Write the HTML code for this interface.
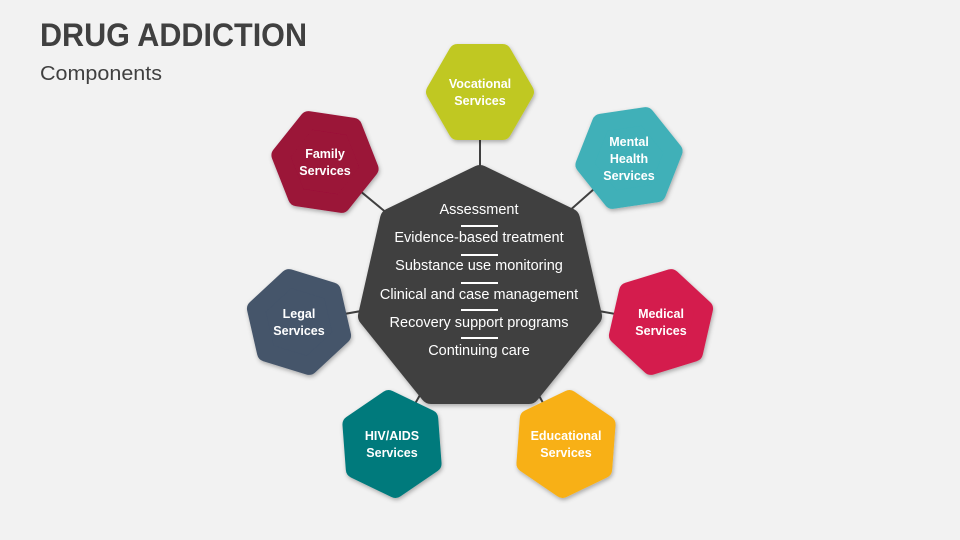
<!DOCTYPE html>
<html><head><meta charset="utf-8"><style>
html,body{margin:0;padding:0;background:#f2f2f2;}
svg{display:block;}
text{font-family:"Liberation Sans",sans-serif;}
</style></head><body>
<svg width="960" height="540" viewBox="0 0 960 540" xmlns="http://www.w3.org/2000/svg">
<defs>
<filter id="sh" x="-20%" y="-20%" width="140%" height="140%"><feDropShadow dx="1" dy="2" stdDeviation="2" flood-color="#000" flood-opacity="0.3"/></filter>
<polygon id="hx" points="45,0 22.5,39 -22.5,39 -45,0 -22.5,-39 22.5,-39"/>
</defs>
<rect width="960" height="540" fill="#f2f2f2"/>
<text x="40" y="46" font-size="32" font-weight="bold" fill="#404040" textLength="267" lengthAdjust="spacingAndGlyphs">DRUG ADDICTION</text>
<text x="40" y="80" font-size="20" fill="#404040" textLength="122" lengthAdjust="spacingAndGlyphs">Components</text>
<g stroke="#404040" stroke-width="2">
<line x1="480" y1="290" x2="480" y2="92"/>
<line x1="480" y1="290" x2="629" y2="158"/>
<line x1="480" y1="290" x2="661" y2="322"/>
<line x1="480" y1="290" x2="566" y2="444"/>
<line x1="480" y1="290" x2="392" y2="444"/>
<line x1="480" y1="290" x2="299" y2="322"/>
<line x1="480" y1="290" x2="325" y2="162"/>
</g>
<g stroke-linejoin="round" stroke-width="18" filter="url(#sh)">
<use href="#hx" transform="translate(480,92)" fill="#c0c824" stroke="#c0c824"/>
<use href="#hx" transform="translate(629,158) rotate(51.43)" fill="#3fb0b8" stroke="#3fb0b8"/>
<use href="#hx" transform="translate(661,322) rotate(102.86)" fill="#d41f4d" stroke="#d41f4d"/>
<use href="#hx" transform="translate(566,444) rotate(154.29)" fill="#f8b016" stroke="#f8b016"/>
<use href="#hx" transform="translate(392,444) rotate(205.71)" fill="#027a7c" stroke="#027a7c"/>
<use href="#hx" transform="translate(299,322) rotate(257.14)" fill="#44546a" stroke="#44546a"/>
<use href="#hx" transform="translate(325,162) rotate(308.57)" fill="#9b1239" stroke="#9b1239"/>
<polygon points="480,176 569,219 591,316 529,393 431,393 369,316 391,219" fill="#404040" stroke="#404040" stroke-width="22"/>
</g>
<g fill="#fff" font-size="12.5" font-weight="bold" text-anchor="middle">
<text x="480" y="88">Vocational</text><text x="480" y="105">Services</text>
<text x="629" y="146">Mental</text><text x="629" y="163">Health</text><text x="629" y="180">Services</text>
<text x="661" y="318">Medical</text><text x="661" y="335">Services</text>
<text x="566" y="440">Educational</text><text x="566" y="457">Services</text>
<text x="392" y="440">HIV/AIDS</text><text x="392" y="457">Services</text>
<text x="299" y="318">Legal</text><text x="299" y="335">Services</text>
<text x="325" y="158">Family</text><text x="325" y="175">Services</text>
</g>
<g fill="#fff" font-size="14.5" text-anchor="middle">
<text x="479" y="214">Assessment</text>
<text x="479" y="242">Evidence-based treatment</text>
<text x="479" y="270">Substance use monitoring</text>
<text x="479" y="299">Clinical and case management</text>
<text x="479" y="327">Recovery support programs</text>
<text x="479" y="355">Continuing care</text>
</g>
<g fill="#fff">
<rect x="461" y="225" width="37" height="2"/>
<rect x="461" y="254" width="37" height="2"/>
<rect x="461" y="282" width="37" height="2"/>
<rect x="461" y="309" width="37" height="2"/>
<rect x="461" y="337" width="37" height="2"/>
</g>
</svg>
</body></html>
